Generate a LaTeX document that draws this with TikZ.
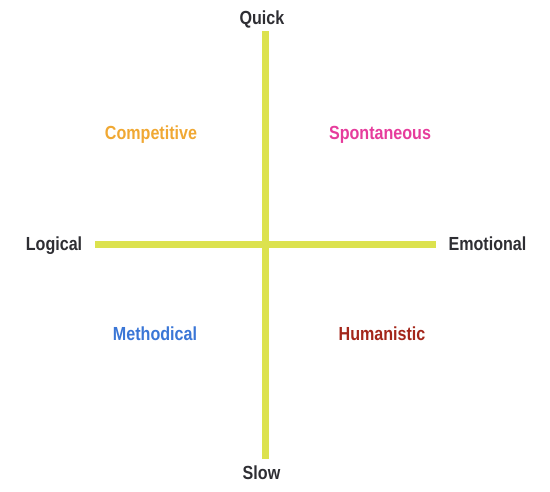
\documentclass[tikz,border=0pt]{standalone}
\usepackage{fontspec}
\setmainfont{Liberation Sans}
\usepackage{xcolor}
\definecolor{axisgreen}{HTML}{DCE24E}
\definecolor{labelgrey}{HTML}{2E2E33}
\definecolor{compcol}{HTML}{F0A833}
\definecolor{spontcol}{HTML}{E63C9C}
\definecolor{methcol}{HTML}{3A76D6}
\definecolor{humcol}{HTML}{A3261A}

\begin{document}
\begin{tikzpicture}[
  x=1bp,y=-1bp,
  axis/.style={draw=axisgreen,line width=7bp},
  axislabel/.style={text=labelgrey,font=\bfseries\fontsize{19}{22}\selectfont,inner sep=0pt,anchor=base,xscale=0.85},
  quadrant/.style={font=\bfseries\fontsize{19}{22}\selectfont,inner sep=0pt,anchor=base,xscale=0.85}
]
  \useasboundingbox (0,0) rectangle (550,492);
  \coordinate (top) at (265.5,31);
  \coordinate (bottom) at (265.5,459);
  \coordinate (left) at (95,244.3);
  \coordinate (right) at (436,244.3);
  \draw[axis] (top) -- (bottom);
  \draw[axis] (left) -- (right);
  \node[axislabel] (quick) at (262,25) {Quick};
  \node[axislabel] (slow) at (261.5,479) {Slow};
  \node[axislabel] (logical) at (54,250.7) {Logical};
  \node[axislabel] (emotional) at (487.5,250.7) {Emotional};
  \node[quadrant,text=compcol] (competitive) at (151,140) {Competitive};
  \node[quadrant,text=spontcol] (spontaneous) at (380,140) {Spontaneous};
  \node[quadrant,text=methcol] (methodical) at (155,340.7) {Methodical};
  \node[quadrant,text=humcol] (humanistic) at (382,340.7) {Humanistic};
\end{tikzpicture}
\end{document}
